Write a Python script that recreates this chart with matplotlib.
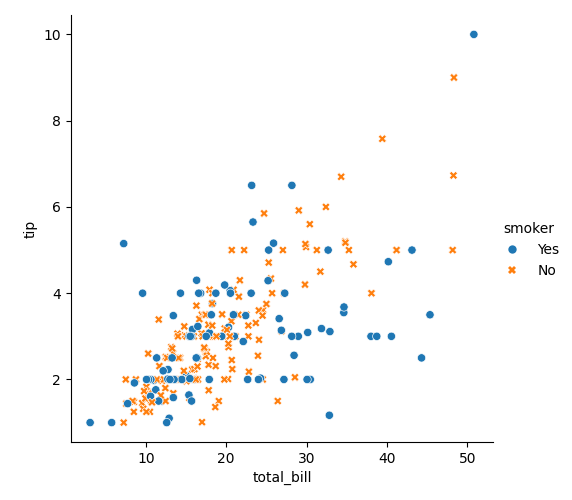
import pandas as pd
import seaborn as sns
import matplotlib.pyplot as plt

total_bill = [
    16.99, 10.34, 21.01, 23.68, 24.59, 25.29, 8.77, 26.88, 15.04, 14.78,
    10.27, 35.26, 15.42, 18.43, 14.83, 21.58, 10.33, 16.29, 16.97, 20.65,
    17.92, 20.29, 15.77, 39.42, 19.82, 17.81, 13.37, 12.69, 21.7, 19.65,
    9.55, 18.35, 15.06, 20.69, 17.78, 24.06, 16.31, 16.93, 18.69, 31.27,
    16.04, 17.46, 13.94, 9.68, 30.4, 18.29, 22.23, 32.4, 28.55, 18.04,
    12.54, 10.29, 34.81, 9.94, 25.56, 19.49, 38.01, 26.41, 11.24, 48.27,
    20.29, 13.81, 11.02, 18.29, 17.59, 20.08, 16.45, 3.07, 20.23, 15.01,
    12.02, 17.07, 26.86, 25.28, 14.73, 10.51, 17.92, 27.2, 22.76, 17.29,
    19.44, 16.66, 10.07, 32.68, 15.98, 34.83, 13.03, 18.28, 24.71, 21.16,
    28.97, 22.49, 5.75, 16.32, 22.75, 40.17, 27.28, 12.03, 21.01, 12.46,
    11.35, 15.38, 44.3, 22.42, 20.92, 15.36, 20.49, 25.21, 18.24, 14.31,
    14.0, 7.25, 38.07, 23.95, 25.71, 17.31, 29.93, 10.65, 12.43, 24.08,
    11.69, 13.42, 14.26, 15.95, 12.48, 29.8, 8.52, 14.52, 11.38, 22.82,
    19.08, 20.27, 11.17, 12.26, 18.26, 8.51, 10.33, 14.15, 16.0, 13.16,
    17.47, 34.3, 41.19, 27.05, 16.43, 8.35, 18.64, 11.87, 9.78, 7.51,
    14.07, 13.13, 17.26, 24.55, 19.77, 29.85, 48.17, 25.0, 13.39, 16.49,
    21.5, 12.66, 16.21, 13.81, 17.51, 24.52, 20.76, 31.71, 10.59, 10.63,
    50.81, 15.81, 7.25, 31.85, 16.82, 32.9, 17.89, 14.48, 9.6, 34.63,
    34.65, 23.33, 45.35, 23.17, 40.55, 20.69, 20.9, 30.46, 18.15, 23.1,
    15.69, 19.81, 28.44, 15.48, 16.58, 7.56, 10.34, 43.11, 13.0, 13.51,
    18.71, 12.74, 13.0, 16.4, 20.53, 16.47, 26.59, 38.73, 24.27, 12.76,
    30.06, 25.89, 48.33, 13.27, 28.17, 12.9, 28.15, 11.59, 7.74, 30.14,
    12.16, 13.42, 8.58, 15.98, 13.42, 16.27, 10.09, 20.45, 13.28, 22.12,
    24.01, 15.69, 11.61, 10.77, 15.53, 10.07, 12.6, 32.83, 35.83, 29.03,
    27.18, 22.67, 17.82, 18.78,
]

tip = [
    1.01, 1.66, 3.5, 3.31, 3.61, 4.71, 2.0, 3.12, 1.96, 3.23,
    1.71, 5.0, 1.57, 3.0, 3.02, 3.92, 1.67, 3.71, 3.5, 3.35,
    4.08, 2.75, 2.23, 7.58, 3.18, 2.34, 2.0, 2.0, 4.3, 3.0,
    1.45, 2.5, 3.0, 2.45, 3.27, 3.6, 2.0, 3.07, 2.31, 5.0,
    2.24, 2.54, 3.06, 1.32, 5.6, 3.0, 5.0, 6.0, 2.05, 3.0,
    2.5, 2.6, 5.2, 1.56, 4.34, 3.51, 3.0, 1.5, 1.76, 6.73,
    3.21, 2.0, 1.98, 3.76, 2.64, 3.15, 2.47, 1.0, 2.01, 2.09,
    1.97, 3.0, 3.14, 5.0, 2.2, 1.25, 3.08, 4.0, 3.0, 2.71,
    3.0, 3.4, 1.83, 5.0, 2.03, 5.17, 2.0, 4.0, 5.85, 3.0,
    3.0, 3.5, 1.0, 4.3, 3.25, 4.73, 4.0, 1.5, 3.0, 1.5,
    2.5, 3.0, 2.5, 3.48, 4.08, 1.64, 4.06, 4.29, 3.76, 4.0,
    3.0, 1.0, 4.0, 2.55, 4.0, 3.5, 5.07, 1.5, 1.8, 2.92,
    2.31, 1.68, 2.5, 2.0, 2.52, 4.2, 1.48, 2.0, 2.0, 2.18,
    1.5, 2.83, 1.5, 2.0, 3.25, 1.25, 2.0, 2.0, 2.0, 2.75,
    3.5, 6.7, 5.0, 5.0, 2.3, 1.5, 1.36, 1.63, 1.73, 2.0,
    2.5, 2.0, 2.74, 2.0, 2.0, 5.14, 5.0, 3.75, 2.61, 2.0,
    3.5, 2.5, 2.0, 2.0, 3.0, 3.48, 2.24, 4.5, 1.61, 2.0,
    10.0, 3.16, 5.15, 3.18, 4.0, 3.11, 2.0, 2.0, 4.0, 3.55,
    3.68, 5.65, 3.5, 6.5, 3.0, 5.0, 3.5, 2.0, 3.5, 4.0,
    1.5, 4.19, 2.56, 2.02, 4.0, 1.44, 2.0, 5.0, 2.0, 2.0,
    4.0, 2.01, 2.0, 2.5, 4.0, 3.23, 3.41, 3.0, 2.03, 2.23,
    2.0, 5.16, 9.0, 2.5, 6.5, 1.1, 3.0, 1.5, 1.44, 3.09,
    2.2, 3.48, 1.92, 3.0, 1.58, 2.5, 2.0, 3.0, 2.72, 2.88,
    2.0, 3.0, 3.39, 1.47, 3.0, 1.25, 1.0, 1.17, 4.67, 5.92,
    2.0, 2.0, 1.75, 3.0,
]

# row indices of the smokers, everyone else is "No"
smoker_rows = (
    [56, 58, 60, 61, 62, 63, 67, 69, 72, 73, 76, 80, 83, 90, 92, 93, 95, 96,
     97, 98, 100, 101, 102, 103, 105, 106, 107, 109, 138, 164]
    + list(range(168, 185)) + list(range(186, 195)) + list(range(196, 212))
    + list(range(213, 223)) + [224, 225, 226, 229, 230, 231, 234, 236, 237,
                               240, 241]
)
smoker = ["Yes" if i in smoker_rows else "No" for i in range(len(total_bill))]

df = pd.DataFrame({"total_bill": total_bill, "tip": tip, "smoker": smoker})

g = sns.relplot(data=df, x="total_bill", y="tip", hue="smoker",
                style="smoker", hue_order=["Yes", "No"],
                style_order=["Yes", "No"], height=5, aspect=1)
g.figure.set_size_inches(5.72, 5)
g.figure.subplots_adjust(left=0.124, right=0.862, bottom=0.116, top=0.97)
g._legend.set_bbox_to_anchor((1.0, 0.5))
g.figure.savefig("out.png", dpi=100)
